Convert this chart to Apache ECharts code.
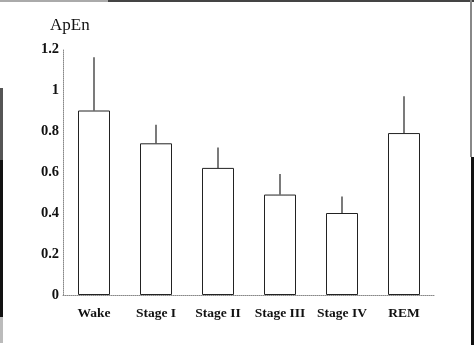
<!DOCTYPE html>
<html>
<head>
<meta charset="utf-8">
<script src="https://cdn.jsdelivr.net/npm/echarts@6/dist/echarts.min.js"></script>
<style>
  html, body { margin: 0; padding: 0; background: #fff; }
  #chart { width: 474px; height: 345px; }
</style>
</head>
<body>
<div id="chart"></div>
<script>
// Sleep stages and approximate entropy (mean and upper SD)
var stages = ['Wake', 'Stage I', 'Stage II', 'Stage III', 'Stage IV', 'REM'];
var apenMean = [0.90, 0.74, 0.62, 0.49, 0.40, 0.79];
var apenSD = [0.26, 0.09, 0.10, 0.10, 0.08, 0.18];
var yTicks = [0, 0.2, 0.4, 0.6, 0.8, 1, 1.2];

var serif = '"Liberation Serif", "DejaVu Serif", serif';

var errData = stages.map(function (s, i) { return [i, apenMean[i], apenMean[i] + apenSD[i]]; });

var chart = echarts.init(document.getElementById('chart'), null, { renderer: 'canvas' });
chart.setOption({
  animation: false,
  backgroundColor: '#fff',
  grid: { left: 63, right: 39, top: 49, bottom: 50, containLabel: false },
  xAxis: {
    type: 'category',
    data: stages,
    axisLine: { show: true, lineStyle: { color: '#888', type: 'dotted', width: 1 } },
    axisTick: { show: false },
    axisLabel: { interval: 0, color: '#111', fontFamily: serif, fontSize: 13.5, fontWeight: 'bold', margin: 12 },
    splitLine: { show: false }
  },
  yAxis: {
    type: 'value',
    min: yTicks[0],
    max: yTicks[yTicks.length - 1],
    interval: 0.2,
    axisLine: { show: true, lineStyle: { color: '#888', type: 'dotted', width: 1 } },
    axisTick: { show: false },
    splitLine: { show: false },
    axisLabel: {
      color: '#111', fontFamily: serif, fontSize: 14.5, fontWeight: 'bold', margin: 4,
      formatter: function (v) { return String(Math.round(v * 10) / 10); }
    }
  },
  graphic: [
    { type: 'text', left: 50, top: 17, style: { text: 'ApEn', fill: '#111', font: '17px ' + serif } },
    // scanned page frame
    { type: 'rect', shape: { x: 0, y: 0, width: 108, height: 2 }, style: { fill: '#aaa' }, silent: true },
    { type: 'rect', shape: { x: 108, y: 0, width: 366, height: 2 }, style: { fill: '#444' }, silent: true },
    { type: 'rect', shape: { x: 0, y: 88, width: 3, height: 72 }, style: { fill: '#555' }, silent: true },
    { type: 'rect', shape: { x: 0, y: 160, width: 3, height: 157 }, style: { fill: '#111' }, silent: true },
    { type: 'rect', shape: { x: 0, y: 317, width: 3, height: 26 }, style: { fill: '#bbb' }, silent: true },
    { type: 'rect', shape: { x: 470, y: 0, width: 2, height: 157 }, style: { fill: '#888' }, silent: true },
    { type: 'rect', shape: { x: 471, y: 157, width: 3, height: 188 }, style: { fill: '#111' }, silent: true }
  ],
  series: [
    {
      type: 'bar',
      data: apenMean,
      barWidth: 32,
      itemStyle: { color: '#fff', borderColor: '#222', borderWidth: 1 },
      z: 2
    },
    {
      type: 'custom',
      data: errData,
      z: 3,
      renderItem: function (params, api) {
        var i = api.value(0);
        var p0 = api.coord([i, api.value(1)]);
        var p1 = api.coord([i, api.value(2)]);
        return {
          type: 'line',
          shape: { x1: p0[0], y1: p0[1], x2: p1[0], y2: p1[1] },
          style: { stroke: '#222', lineWidth: 1.2 }
        };
      }
    }
  ]
});
</script>
</body>
</html>
